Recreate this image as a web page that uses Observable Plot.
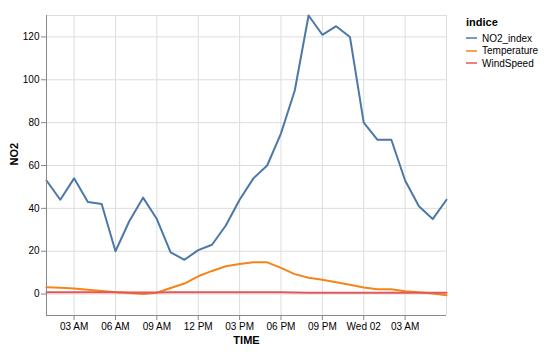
<!DOCTYPE html>
<html>
<head>
<meta charset="utf-8">
<script src="https://cdn.jsdelivr.net/npm/d3@7"></script>
<script src="https://cdn.jsdelivr.net/npm/@observablehq/plot@0.6"></script>
<style>
  html, body { margin: 0; padding: 0; background: #fff; }
  body { font-family: "Liberation Sans", Arial, Helvetica, sans-serif; }
  #wrap { position: relative; width: 546px; height: 357px; }
  #legend { position: absolute; left: 466px; top: 16px; font-size: 10px; color: #000; }
  #legend .title { font-weight: bold; font-size: 11px; margin-bottom: 4px; }
  #legend .row { display: flex; align-items: center; height: 12.6px; }
  #legend svg { margin-right: 5px; }
</style>
</head>
<body>
<div id="wrap"><div id="legend"></div></div>
<script>
// hourly timestamps (UTC)
const hours = [
  "2016-03-01T01:00Z","2016-03-01T02:00Z","2016-03-01T03:00Z","2016-03-01T04:00Z","2016-03-01T05:00Z",
  "2016-03-01T06:00Z","2016-03-01T07:00Z","2016-03-01T08:00Z","2016-03-01T09:00Z","2016-03-01T10:00Z",
  "2016-03-01T11:00Z","2016-03-01T12:00Z","2016-03-01T13:00Z","2016-03-01T14:00Z","2016-03-01T15:00Z",
  "2016-03-01T16:00Z","2016-03-01T17:00Z","2016-03-01T18:00Z","2016-03-01T19:00Z","2016-03-01T20:00Z",
  "2016-03-01T21:00Z","2016-03-01T22:00Z","2016-03-01T23:00Z","2016-03-02T00:00Z","2016-03-02T01:00Z",
  "2016-03-02T02:00Z","2016-03-02T03:00Z","2016-03-02T04:00Z","2016-03-02T05:00Z","2016-03-02T06:00Z"
];
const no2Index = [53, 44, 54, 43, 42, 20, 34, 45, 35, 19.5, 16, 20.5, 23, 32, 44, 54, 60, 75, 95, 130,
                  121, 125, 120, 80, 72, 72, 53, 41, 35, 44];
const temperature = [3.2, 2.9, 2.6, 2.0, 1.4, 0.9, 0.5, 0.0, 0.6, 2.8, 4.9, 8.3, 10.8, 13, 14, 14.8, 14.8,
                     12.2, 9.3, 7.6, 6.7, 5.5, 4.3, 3.1, 2.3, 2.2, 1.3, 0.8, 0.3, -0.5];
const windSpeed = [0.8, 0.8, 0.8, 0.8, 0.8, 0.8, 0.7, 0.7, 0.7, 0.8, 0.9, 0.9, 0.9, 0.9, 0.9, 0.9, 0.9,
                   0.8, 0.7, 0.6, 0.6, 0.6, 0.6, 0.6, 0.6, 0.6, 0.6, 0.6, 0.6, 0.6];
const seriesNames = ["NO2_index", "Temperature", "WindSpeed"];
const seriesColors = ["#4c78a8", "#f58518", "#e45756"];
const yTicks = [0, 20, 40, 60, 80, 100, 120];
const yDomain = [-10, 130];
const xTickLabels = ["03 AM", "06 AM", "09 AM", "12 PM", "03 PM", "06 PM", "09 PM", "Wed 02", "03 AM"];
const xTickTimes = ["2016-03-01T03:00Z","2016-03-01T06:00Z","2016-03-01T09:00Z","2016-03-01T12:00Z",
                    "2016-03-01T15:00Z","2016-03-01T18:00Z","2016-03-01T21:00Z","2016-03-02T00:00Z",
                    "2016-03-02T03:00Z"];

const times = hours.map(d => new Date(d));
const xTicks = xTickTimes.map(d => new Date(d));
const seriesValues = [no2Index, temperature, windSpeed];
const data = [];
seriesNames.forEach((name, s) => {
  times.forEach((t, i) => data.push({TIME: t, value: seriesValues[s][i], indice: name}));
});
const labelOf = new Map(xTicks.map((t, i) => [+t, xTickLabels[i]]));

const font = '"Liberation Sans", Arial, Helvetica, sans-serif';
const chart = Plot.plot({
  width: 546,
  height: 357,
  marginLeft: 46,
  marginRight: 100,
  marginTop: 15,
  marginBottom: 42,
  style: { fontFamily: font, fontSize: "10px", background: "white", color: "#000" },
  x: { type: "utc", domain: [times[0], times[times.length - 1]] },
  y: { domain: yDomain },
  color: { domain: seriesNames, range: seriesColors },
  marks: [
    Plot.ruleY(yTicks, { stroke: "#ddd", strokeWidth: 1 }),
    Plot.ruleX(xTicks, { stroke: "#ddd", strokeWidth: 1 }),
    Plot.ruleY([yDomain[1]], { stroke: "#ddd" }),
    Plot.ruleX([times[times.length - 1]], { stroke: "#ddd" }),
    Plot.line(data, { x: "TIME", y: "value", z: "indice", stroke: "indice", strokeWidth: 2 }),
    Plot.ruleX([times[0]], { stroke: "#888" }),
    Plot.ruleY([yDomain[0]], { stroke: "#888" }),
    Plot.axisX({ ticks: xTicks, tickFormat: d => labelOf.get(+d), tickSize: 5, tickPadding: 2,
                 stroke: "#888", fill: "#000", label: null, fontSize: 10 }),
    Plot.axisY({ ticks: yTicks, tickSize: 5, tickPadding: 2, stroke: "#888", fill: "#000",
                 label: null, fontSize: 10 }),
    Plot.text(["TIME"], { frameAnchor: "bottom", dy: 28, fontWeight: "bold", fontSize: 11 }),
    Plot.text(["NO2"], { frameAnchor: "left", dx: -32, rotate: -90, fontWeight: "bold", fontSize: 11 })
  ]
});
document.getElementById("wrap").prepend(chart);

const legend = document.getElementById("legend");
const t = document.createElement("div");
t.className = "title";
t.textContent = "indice";
legend.appendChild(t);
seriesNames.forEach((name, i) => {
  const row = document.createElement("div");
  row.className = "row";
  row.innerHTML = `<svg width="11" height="4"><line x1="0" x2="11" y1="2" y2="2" stroke="${seriesColors[i]}" stroke-width="2" opacity="0.75"/></svg><span>${name}</span>`;
  legend.appendChild(row);
});
</script>
</body>
</html>
